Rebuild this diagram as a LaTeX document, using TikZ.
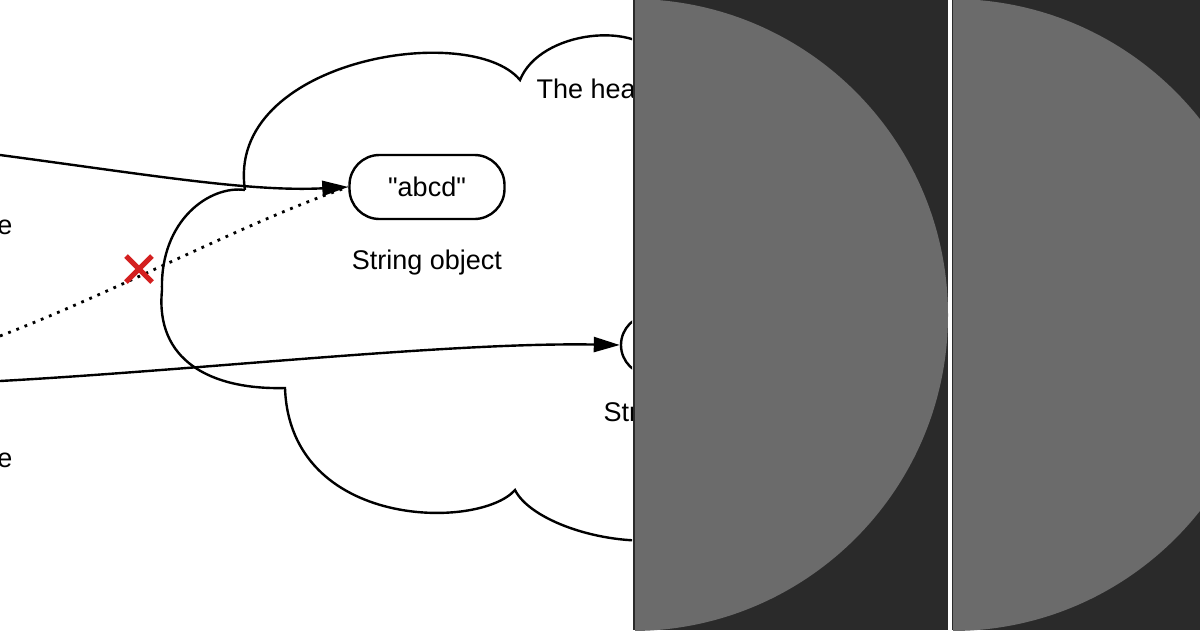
\documentclass[tikz,border=0pt]{standalone}
\usepackage{fontspec}
\setmainfont{Liberation Sans}
\usetikzlibrary{arrows.meta}
\definecolor{panel}{HTML}{2A2A2A}
\definecolor{disc}{HTML}{6B6B6B}
\definecolor{cross}{HTML}{D42020}
\tikzset{
  lbl/.style={font=\fontsize{27}{30}\selectfont},
  box/.style={draw, line width=2.4pt, rounded corners=30pt, minimum width=155pt, minimum height=64pt, lbl},
  ref/.style={line width=2.4pt, -{Triangle[length=26pt,width=15pt]}},
}
\begin{document}
\begin{tikzpicture}[x=1pt,y=-1pt]
\useasboundingbox (0,0) rectangle (1200,630);
\fill[white] (0,0) rectangle (1200,630);
% right panels
\fill[panel] (633,0) rectangle (1200,630);
\fill[white] (948,0) rectangle (952,630);
\begin{scope}
\clip (635,0) rectangle (948,630);
\fill[disc] (632,315) circle (316);
\end{scope}
\begin{scope}
\clip (953,0) rectangle (1200,630);
\fill[disc] (952,315) circle (316);
\end{scope}
% left panel
\begin{scope}
\clip (0,0) rectangle (632,630);
\draw[line width=2.4pt] (245,190)
  .. controls (225,60) and (470,20) .. (520,80)
  .. controls (540,30) and (640,20) .. (660,60)
  -- (660,540)
  .. controls (600,545) and (530,520) .. (515,490)
  .. controls (480,530) and (290,530) .. (285,388)
  .. controls (210,390) and (155,360) .. (162,290)
  .. controls (160,220) and (210,185) .. (245,190);
\node[lbl, anchor=west] (heap) at (533,92) {The heap};
\node[box] (abcd) at (427,187) {\textquotedbl abcd\textquotedbl};
\node[lbl] (obj1) at (427,263) {String object};
\node[draw, line width=2.4pt, circle, minimum size=60pt] (other) at (651,345) {};
\node[lbl, anchor=west] (obj2) at (600,415) {String object};
\node[lbl, anchor=east] (var1) at (16,225) {variable};
\node[lbl, anchor=east] (var2) at (16,458) {variable};
\coordinate (s1) at (0,155);
\coordinate (s2) at (0,336);
\coordinate (s3) at (0,381);
\draw[ref] (s1) .. controls (150,175) and (250,192) .. (abcd.west);
\draw[line width=2.8pt, dash pattern=on 2.8pt off 6pt] (s2) .. controls (120,290) and (250,220) .. (abcd.west);
\draw[ref] (s3) .. controls (200,370) and (450,342) .. (other.west);
% red cross
\coordinate (x) at (139,269);
\draw[cross, line width=5pt] ([shift={(-13,-13)}]x) -- ([shift={(13,13)}]x)
  ([shift={(-13,13)}]x) -- ([shift={(13,-13)}]x);
\end{scope}
\end{tikzpicture}
\end{document}
